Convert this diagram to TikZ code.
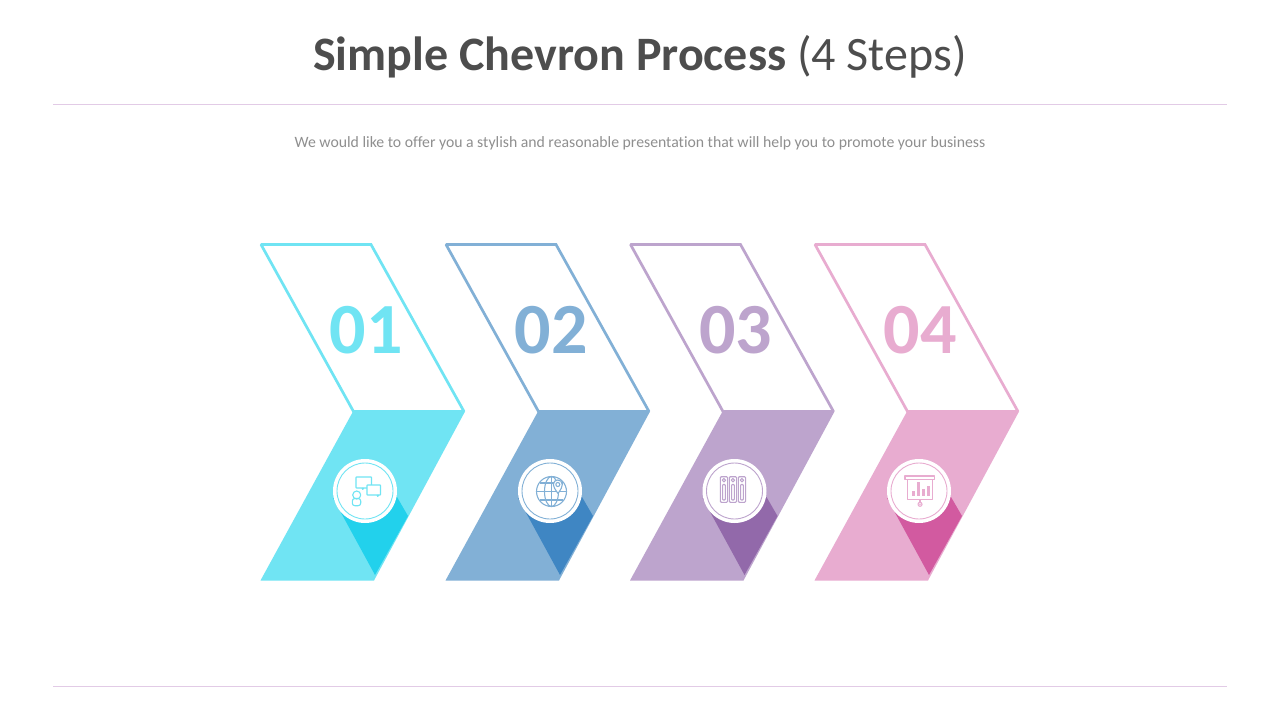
\documentclass[tikz,border=0pt]{standalone}
\usepackage{fontspec}
\setmainfont[Ligatures=NoCommon]{Carlito}
\definecolor{cA}{HTML}{70E4F3}\definecolor{dA}{HTML}{22D1EC}
\definecolor{cB}{HTML}{82B0D6}\definecolor{dB}{HTML}{3F86C3}
\definecolor{cC}{HTML}{BDA4CD}\definecolor{dC}{HTML}{9269AA}
\definecolor{cD}{HTML}{E8ACD0}\definecolor{dD}{HTML}{D25AA0}
\definecolor{rulec}{HTML}{E2CBE6}\definecolor{titlec}{HTML}{4D4D4D}\definecolor{subc}{HTML}{8F8F8F}
\tikzset{
  topshape/.style={draw=#1,line width=2.7pt,fill=white,line join=miter,miter limit=1.8},
  lowshape/.style={fill=#1},
  shade/.style={fill=#1},
  disc/.style={circle,fill=white,minimum size=64pt,inner sep=0pt},
  ring/.style={circle,draw=#1,line width=0.9pt,fill=white,minimum size=56pt,inner sep=0pt},
  numlabel/.style={text=#1,font=\fontsize{72}{72}\selectfont\bfseries,inner sep=0pt},
  icon/.style={draw=#1,line width=1.1pt,line join=round},
  rulel/.style={draw=rulec,line width=0.9pt}
}
% #1 x-offset, #2 light, #3 dark, #4 number, #5 id
\newcommand{\chevstep}[5]{%
  \begin{scope}[shift={(#1,0)}]
    \fill[lowshape=#2] (353,411.5) -- (465,411.5) -- (374,580.5) -- (260.5,580.5) -- cycle;
    \fill[shade=#3] (333,498) -- (397,497) -- (408,516) -- (375,575) -- cycle;
    \draw[topshape=#2] (261,244.5) -- (371,244.5) -- (464,411.5) -- (353.5,411.5) -- cycle;
    \node[numlabel=#2] (num#5) at (366.3,330.5) {#4};
    \node[disc] (disc#5) at (365,491) {};
    \node[ring=#2] (ring#5) at (365,491) {};
  \end{scope}}
\begin{document}
\begin{tikzpicture}[x=1pt,y=-1pt]
\useasboundingbox (0,0) rectangle (1280,720);
\fill[white] (0,0) rectangle (1280,720);
\node[text=titlec,font=\fontsize{48}{48}\selectfont,inner sep=0pt] (title) at (640,57) {\textbf{Simple Chevron Process} (4 Steps)};
\coordinate (r1a) at (53,104.5); \coordinate (r1b) at (1227,104.5);
\coordinate (r2a) at (53,686.5); \coordinate (r2b) at (1227,686.5);
\draw[rulel] (r1a) -- (r1b);
\draw[rulel] (r2a) -- (r2b);
\node[text=subc,font=\fontsize{15.75}{15.75}\selectfont,inner sep=0pt] (sub) at (640,143.5) {We would like to offer you a stylish and reasonable presentation that will help you to promote your business};

\chevstep{0}{cA}{dA}{01}{a}
\chevstep{185}{cB}{dB}{02}{b}
\chevstep{369.5}{cC}{dC}{03}{c}
\chevstep{554}{cD}{dD}{04}{d}

% icon 1: speech bubbles and person
\begin{scope}[shift={(365,491)},icon=cA]
  \draw[rounded corners=0.5pt] (-9,-14) rectangle (6.5,-3);
  \draw (-3,-3) -- (-2.2,-1.6) -- (-1.4,-3);
  \draw[rounded corners=0.5pt,fill=white] (2,-6) rectangle (15.5,4);
  \draw (12,4) -- (12.8,5.4) -- (13.6,4);
  \draw (-8.3,4) circle (4);
  \draw[rounded corners=2.5pt] (-12.7,7.5) rectangle (-4.3,14.7);
\end{scope}
% icon 2: globe with pin
\begin{scope}[shift={(550,491)},icon=cB]
  \draw (1.5,0.5) circle (15);
  \draw (1.5,0.5) ellipse (7 and 15);
  \draw (-13.5,0.5) -- (16.5,0.5);
  \draw (-10,-8) -- (13,-8);
  \draw (-10,9) -- (13,9);
  \draw (1.5,-14.5) -- (1.5,15.5);
  \draw[fill=white] (8,2.5) .. controls (5,-2) and (3.3,-4) .. (3.3,-6.5) .. controls (3.3,-12.5) and (12.3,-12.5) .. (12.3,-6.5) .. controls (12.3,-4) and (11,-2) .. (8,2.5) -- cycle;
  \draw (7.8,-6.5) circle (2);
\end{scope}
% icon 3: three binders
\begin{scope}[shift={(734,491)},icon=cC]
  \foreach \bx in {-13.7,-4.7,4.3}{
    \draw[rounded corners=1pt] (\bx,-14.3) rectangle ++(7.3,25.6);
    \draw (\bx+3.65,-10.8) circle (1.7);
    \draw[rounded corners=0.8pt] (\bx+2.3,-6.5) rectangle ++(2.7,15.5);
  }
\end{scope}
% icon 4: presentation board
\begin{scope}[shift={(919,491)},icon=cD]
  \draw (-14,-15) rectangle (15.3,-11.7);
  \draw (-11.7,-11.7) rectangle (13.3,8.3);
  \fill[cD,draw=none] (-7.3,0) rectangle (-3.9,5);
  \fill[cD,draw=none] (-2.3,-9) rectangle (1.1,5);
  \fill[cD,draw=none] (3,-2) rectangle (6.4,5);
  \fill[cD,draw=none] (7.7,-5.3) rectangle (11.1,5);
  \draw (1,8.3) -- (1,11.3);
  \draw (1,13.3) circle (2);
  \fill[cD,draw=none] (1,13.3) circle (0.9);
\end{scope}
\end{tikzpicture}
\end{document}
